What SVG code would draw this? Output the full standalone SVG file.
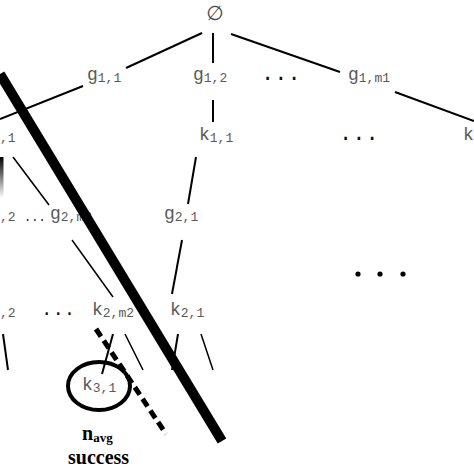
<svg xmlns="http://www.w3.org/2000/svg" width="474" height="474" viewBox="0 0 474 474">
<style>
.n{font-family:"Liberation Mono","Courier New",monospace;font-size:18px;fill:#5a5a5a}
.s{font-size:13px}
.d{font-family:"Liberation Mono","Courier New",monospace;fill:#111}
.e{stroke:#000;stroke-width:2;fill:none}
.t{stroke:#000;stroke-width:1.5;fill:none}
.b{font-family:"Liberation Serif","Times New Roman",serif;font-weight:bold;fill:#000}
</style>
<defs>
<linearGradient id="fade" x1="0" y1="0" x2="0" y2="1">
<stop offset="0" stop-color="#000"/>
<stop offset="1" stop-color="#fff"/>
</linearGradient>
</defs>
<rect width="474" height="474" fill="#fff"/>
<g id="nodes">
<g id="root"><text x="215" y="20" text-anchor="middle" font-family="'DejaVu Sans',sans-serif" font-size="20" fill="#444">∅</text></g>
<g id="g11"><text class="n" x="87" y="80">g<tspan class="s" dy="2">1,1</tspan></text></g>
<g id="g12"><text class="n" x="193" y="80">g<tspan class="s" dy="2">1,2</tspan></text></g>
<g id="dots1"><text class="d" x="261" y="80" font-size="22">...</text></g>
<g id="g1m1"><text class="n" x="348" y="80">g<tspan class="s" dy="2">1,m1</tspan></text></g>
<g id="k11a"><text class="n s" x="0" y="142">,1</text></g>
<g id="k11b"><text class="n" x="199" y="140">k<tspan class="s" dy="2">1,1</tspan></text></g>
<g id="dots2"><text class="d" x="339" y="140" font-size="22">...</text></g>
<g id="k1m"><text class="n" x="463" y="140">k</text></g>
<g id="g22"><text class="n s" x="0" y="221">,2</text></g>
<g id="dots3"><text class="d" x="24" y="221" font-size="12">...</text></g>
<g id="g2m2"><text class="n" x="50" y="219">g<tspan class="s" dy="2">2,m2</tspan></text></g>
<g id="g21"><text class="n" x="164" y="219">g<tspan class="s" dy="2">2,1</tspan></text></g>
<g id="bigdots"><circle cx="358" cy="274" r="2.6"/><circle cx="380" cy="274" r="2.6"/><circle cx="403" cy="274" r="2.6"/></g>
<g id="k22"><text class="n s" x="0" y="317">,2</text></g>
<g id="dots4"><text class="d" x="41" y="315" font-size="19">...</text></g>
<g id="k2m2"><text class="n" x="92" y="315">k<tspan class="s" dy="2">2,m2</tspan></text></g>
<g id="k21"><text class="n" x="170" y="315">k<tspan class="s" dy="2">2,1</tspan></text></g>
<g id="k31"><text class="n" x="82" y="390">k<tspan class="s" dy="2">3,1</tspan></text>
<ellipse cx="99" cy="386" rx="31" ry="24" fill="none" stroke="#000" stroke-width="4"/></g>
<g id="label"><text class="b" x="82" y="440" font-size="20">n<tspan font-size="13" dy="2">avg</tspan></text>
<text class="b" x="68" y="464" font-size="20">success</text></g>
</g>
<g id="connectors">
<line class="e" x1="202" y1="33" x2="126" y2="68"/>
<line class="e" x1="213" y1="33" x2="213" y2="63"/>
<line class="e" x1="231" y1="34" x2="340" y2="72"/>
<line class="e" x1="83" y1="86" x2="0" y2="119"/>
<line class="e" x1="213" y1="100" x2="213" y2="122"/>
<line class="e" x1="395" y1="92" x2="474" y2="121"/>
<line class="e" x1="196" y1="157" x2="188" y2="204"/>
<line class="t" x1="13" y1="157" x2="49" y2="205"/>
<rect x="0" y="157" width="3.5" height="41" fill="url(#fade)"/>
<line class="t" x1="72" y1="240" x2="113" y2="297"/>
<line class="e" x1="182" y1="240" x2="172" y2="294"/>
<line class="e" x1="3" y1="334" x2="8" y2="370"/>
<line class="e" x1="113" y1="334" x2="102" y2="374"/>
<line class="t" x1="125" y1="334" x2="143" y2="370"/>
<line class="e" x1="178" y1="334" x2="172" y2="370"/>
<line class="t" x1="201" y1="334" x2="213" y2="370"/>
<line x1="96" y1="329" x2="166" y2="434" stroke="#000" stroke-width="5" stroke-dasharray="9 5"/>
<line x1="0" y1="74" x2="222" y2="441" stroke="#000" stroke-width="10"/>
</g>
</svg>
